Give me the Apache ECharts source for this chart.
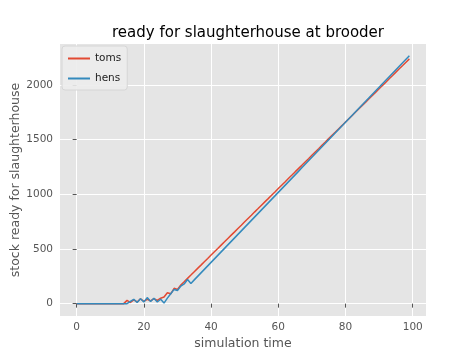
<!DOCTYPE html>
<html>
<head>
<meta charset="utf-8">
<script src="https://cdn.jsdelivr.net/npm/echarts@6/dist/echarts.min.js"></script>
<style>
  html, body { margin: 0; padding: 0; background: #fff; }
  #main { width: 474px; height: 355px; }
</style>
</head>
<body>
<div id="main"></div>
<script>
// simulation steps 0..99
const steps = [];
for (let i = 0; i < 100; i++) steps.push(i);

const toms = [
  0, 0, 0, 0, 0, 0, 0, 0, 0, 0,
  0, 0, 0, 0, 0, 30, 10, 35, 15, 45,
  20, 40, 25, 45, 30, 50, 60, 100, 90, 140,
  130, 170, 200, 231, 261, 292, 322, 352, 383, 413,
  444, 474, 504, 535, 565, 596, 626, 656, 687, 717,
  748, 778, 808, 839, 869, 900, 930, 960, 991, 1021,
  1052, 1082, 1112, 1143, 1173, 1204, 1234, 1264, 1295, 1325,
  1356, 1386, 1416, 1447, 1477, 1508, 1538, 1568, 1599, 1629,
  1660, 1690, 1720, 1751, 1781, 1812, 1842, 1872, 1903, 1933,
  1964, 1994, 2024, 2055, 2085, 2116, 2146, 2176, 2207, 2237
];

const hens = [
  0, 0, 0, 0, 0, 0, 0, 0, 0, 0,
  0, 0, 0, 0, 0, 0, 20, 40, 10, 45,
  15, 55, 20, 50, 15, 40, 5, 50, 90, 130,
  120, 160, 180, 220, 185, 217, 249, 281, 313, 345,
  377, 409, 441, 473, 505, 537, 569, 601, 633, 665,
  697, 729, 761, 793, 825, 857, 889, 921, 953, 985,
  1017, 1049, 1081, 1113, 1145, 1177, 1209, 1241, 1273, 1305,
  1337, 1369, 1401, 1433, 1465, 1497, 1529, 1561, 1593, 1625,
  1657, 1689, 1721, 1753, 1785, 1817, 1849, 1881, 1913, 1945,
  1977, 2009, 2041, 2073, 2105, 2137, 2169, 2201, 2233, 2265
];

const xTicks = [0, 20, 40, 60, 80, 100];
const yTicks = [0, 500, 1000, 1500, 2000];

const chart = echarts.init(document.getElementById('main'), null, { renderer: 'canvas' });

const font = 'DejaVu Sans';
const tickColor = '#555555';

chart.setOption({
  animation: false,
  backgroundColor: '#ffffff',
  color: ['#E24A33', '#348ABD'],
  title: {
    text: 'ready for slaughterhouse at brooder',
    left: 243,
    top: 21,
    textAlign: 'center',
    textStyle: { fontFamily: font, fontSize: 15, fontWeight: 'normal', color: '#000' },
  },
  legend: {
    orient: 'vertical',
    left: 62,
    top: 46,
    icon: 'rect',
    itemWidth: 22,
    itemHeight: 2,
    itemGap: 9,
    padding: [7, 6, 6, 6],
    backgroundColor: 'rgba(236,236,236,0.9)',
    borderColor: '#d6d6d6',
    borderWidth: 1,
    borderRadius: 3,
    textStyle: { fontFamily: font, fontSize: 10.5, color: '#222' },
    data: ['toms', 'hens'],
  },
  grid: {
    left: 60,
    right: 48,
    top: 44,
    bottom: 39,
    outerBoundsMode: 'none',
    containLabel: false,
    show: true,
    backgroundColor: '#E5E5E5',
    borderWidth: 0,
  },
  xAxis: {
    type: 'value',
    min: -4.95,
    max: 103.95,
    name: 'simulation time',
    nameLocation: 'middle',
    nameGap: 21,
    nameMoveOverlap: false,
    nameTextStyle: { fontFamily: font, fontSize: 12.5, color: '#555' },
    axisLine: { show: false },
    axisTick: { show: true, length: 4, lineStyle: { color: tickColor }, customValues: xTicks },
    axisLabel: { customValues: xTicks, fontFamily: font, fontSize: 10.5, color: tickColor, margin: 6 },
    splitLine: { show: true, lineStyle: { color: '#ffffff', width: 1 } },
  },
  yAxis: {
    type: 'value',
    min: -113,
    max: 2373,
    name: 'stock ready for slaughterhouse',
    nameLocation: 'middle',
    nameGap: 38,
    nameMoveOverlap: false,
    nameTextStyle: { fontFamily: font, fontSize: 12.5, color: '#555' },
    axisLine: { show: false },
    axisTick: { show: true, length: 4, lineStyle: { color: tickColor }, customValues: yTicks },
    axisLabel: {
      customValues: yTicks,
      formatter: (v) => String(v),
      fontFamily: font,
      fontSize: 10.5,
      color: tickColor,
      margin: 7,
    },
    splitLine: { show: true, lineStyle: { color: '#ffffff', width: 1 } },
  },
  series: [
    {
      name: 'toms',
      type: 'line',
      data: steps.map((x, i) => [x, toms[i]]),
      symbol: 'none',
      lineStyle: { width: 1.5 },
    },
    {
      name: 'hens',
      type: 'line',
      data: steps.map((x, i) => [x, hens[i]]),
      symbol: 'none',
      lineStyle: { width: 1.5 },
    },
  ],
});
</script>
</body>
</html>
